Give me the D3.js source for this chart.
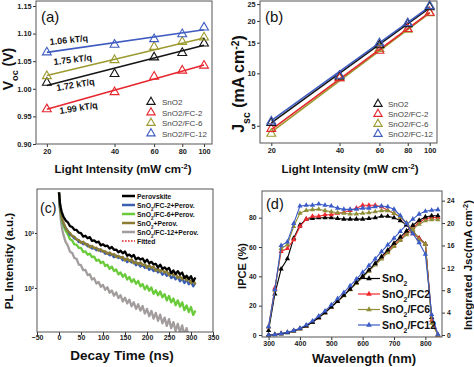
<!DOCTYPE html>
<html lang="en">
<head>
<meta charset="utf-8">
<title>SnO2 / FC devices</title>
<script src="https://cdn.jsdelivr.net/npm/d3@7/dist/d3.min.js"></script>
<style>
  body { margin: 0; background: #ffffff; }
  svg text { font-family: "Liberation Sans", Arial, sans-serif; }
</style>
</head>
<body>
<script>
// ---- (a) / (b) : Voc and Jsc vs light intensity ----
var lightIntensity = [20, 40, 60, 80, 100]
var fitEnds = [20, 100]
var seriesAB = ["SnO2", "SnO2/FC-2", "SnO2/FC-6", "SnO2/FC-12"]
var colorsAB = ["#151515", "#e6262e", "#9c9a2e", "#3f5cc0"]

var vocSnO2 = [1.011, 1.027, 1.057, 1.065, 1.082]
var vocFC2 = [0.963, 0.994, 1.022, 1.033, 1.042]
var vocFC6 = [1.023, 1.052, 1.076, 1.085, 1.093]
var vocFC12 = [1.066, 1.080, 1.090, 1.099, 1.111]
var vocFitSnO2 = [1.006, 1.079]
var vocFitFC2 = [0.963, 1.043]
var vocFitFC6 = [1.024, 1.092]
var vocFitFC12 = [1.066, 1.107]
var slopeLabels = ["1.06 kT/q", "1.75 kT/q", "1.72 kT/q", "1.99 kT/q"]
var vocTicks = [0.90, 0.95, 1.00, 1.05, 1.10, 1.15]

var jscSnO2 = [5.2, 9.6, 14.5, 19.2, 24.0]
var jscFC2 = [4.8, 9.4, 13.5, 18.0, 22.3]
var jscFC6 = [4.5, 9.4, 13.8, 17.8, 22.2]
var jscFC12 = [5.3, 9.7, 14.9, 19.4, 24.4]
var jscFitSnO2 = [5.2, 23.8]
var jscFitFC2 = [4.75, 22.4]
var jscFitFC6 = [4.6, 22.2]
var jscFitFC12 = [5.35, 24.2]
var jscTicks = [5, 10, 15, 20, 25]

// ---- (c) : PL decay ----
var decayTime = [0, 2, 4, 6, 8, 10, 15, 20, 25, 30, 35, 40, 45, 50, 55, 60, 65, 70, 75, 80, 85, 90, 95, 100,
  105, 110, 115, 120, 125, 130, 135, 140, 145, 150, 155, 160, 165, 170, 175, 180, 185, 190, 195, 200,
  205, 210, 215, 220, 225, 230, 235, 240, 245, 250, 255, 260, 265, 270, 275, 280, 285, 290, 295, 300, 305, 310]
var plPerovskite = [5500, 3630, 2880, 2450, 2190, 2000, 1700, 1567, 1334, 1282, 1143, 1135, 1012, 993, 861, 891, 804, 841, 721, 733, 673, 695, 596, 624,
  575, 589, 521, 556, 495, 499, 447, 476, 427, 462, 385, 405, 369, 398, 331, 355, 330, 345, 295, 327,
  282, 299, 268, 274, 236, 266, 224, 237, 216, 232, 186, 208, 180, 202, 176, 191, 151, 167, 146, 164, 132, 155]
var plFC2 = [5500, 3100, 2350, 1960, 1700, 1510, 1230, 1102, 923, 891, 794, 785, 684, 695, 624, 646, 573, 586, 519, 537, 484, 507, 462, 473,
  420, 439, 392, 406, 363, 392, 351, 366, 319, 341, 295, 321, 290, 304, 259, 282, 246, 264, 233, 252,
  214, 230, 203, 223, 192, 207, 174, 191, 167, 186, 151, 166, 144, 161, 133, 148, 123, 142, 117, 132, 107, 125]
var plFC6 = [5500, 3020, 2240, 1820, 1550, 1380, 1100, 944, 767, 728, 619, 617, 535, 537, 452, 462, 403, 422, 363, 372, 313, 327, 285, 302,
  252, 264, 223, 245, 204, 217, 177, 192, 160, 178, 143, 158, 128, 145, 119, 135, 107, 118, 94.6, 110,
  89.3, 102, 78.2, 91, 73.3, 86.3, 67.9, 77.3, 59.4, 71.6, 54.8, 64.3, 48.6, 59.7, 45.7, 54.8, 39.6, 48.1, 36.4, 45.2, 32.4, 38.9]
var plSnO2 = [5500, 3160, 2400, 2000, 1740, 1550, 1260, 1072, 1005, 875, 861, 755, 750, 661, 692, 619, 624, 547, 582, 531, 541, 479, 509, 457,
  466, 417, 445, 404, 415, 365, 386, 353, 368, 316, 348, 310, 332, 281, 299, 270, 294, 259, 271, 233,
  260, 231, 246, 206, 222, 198, 221, 191, 203, 170, 195, 169, 185, 151, 163, 143, 163, 137, 151, 122, 140, 116]
var plFC12 = [5500, 2630, 1780, 1350, 1100, 933, 692, 589, 457, 432, 351, 339, 266, 260, 211, 214, 172, 178, 143, 150, 120, 129, 105, 114,
  92.5, 103, 81.8, 89.9, 72.4, 83.4, 65.6, 73.8, 56.8, 66.8, 52.4, 61.4, 46.5, 55.1, 41.7, 50.6, 38.7, 47, 34.4, 41.7,
  30.8, 38.3, 27.7, 35.2, 25.4, 32.7, 22.8, 29, 20.5, 27.2, 18.6, 24, 16.6, 22.4, 15.5, 20.9, 13.8, 18.6, 12.6]
var plNames = ["Perovskite", "SnO2/FC-2+Perov.", "SnO2/FC-6+Perov.", "SnO2+Perov.", "SnO2/FC-12+Perov.", "Fitted"]
var plColors = ["#000000", "#3b5fb0", "#6acb3a", "#8c7d32", "#a39c9c", "#e02424"]
var timeTicks = [-50, 0, 50, 100, 150, 200, 250, 300, 350]

// ---- (d) : IPCE and integrated Jsc ----
var wavelength = [300, 320, 340, 360, 380, 400, 420, 440, 460, 480, 500, 520, 540, 560, 580, 600, 620, 640, 660, 680, 700, 720, 740, 760, 780, 800, 820, 840]
var ipceSnO2 = [3, 28, 45, 52, 66, 75, 79, 79.5, 80, 80, 80, 79.5, 79, 79, 79, 79, 79.5, 80, 81, 81, 80, 78, 75, 70.5, 66, 62, 12, 0]
var ipceFC2 = [5.7, 32, 57, 59, 65, 74, 79, 81, 81, 82, 82, 83, 83.5, 85, 86.5, 88.5, 88.5, 88.5, 87.5, 85, 83, 80.5, 76, 69, 66, 62, 10, 0]
var ipceFC6 = [5.7, 30.5, 59, 61.5, 74, 83, 85, 85.5, 85.7, 84.8, 84, 83.4, 83, 82.5, 82.5, 83, 83.4, 84, 84.8, 84.8, 83, 80.5, 76.5, 71.5, 65, 62, 8, 0]
var ipceFC12 = [5.7, 31, 61, 63.5, 76, 88, 88.5, 88.5, 89.3, 88.5, 88, 86.5, 85.7, 85.7, 85.7, 86.5, 86.5, 87.5, 88, 87.5, 85.7, 81.5, 76, 69, 63, 55, 14, 0.5]
var intJscSnO2 = [0, 0.05, 0.2, 0.4, 0.7, 1.1, 1.6, 2.3, 3.1, 4.0, 5.0, 6.0, 7.1, 8.2, 9.4, 10.5, 11.6, 12.8, 14.0, 15.2, 16.4, 17.5, 18.6, 19.6, 20.5, 21.1, 21.3, 21.3]
var intJscFC2 = [0, 0.1, 0.25, 0.45, 0.75, 1.1, 1.6, 2.3, 3.1, 4.0, 5.0, 6.0, 7.1, 8.2, 9.3, 10.4, 11.5, 12.6, 13.8, 14.9, 16.0, 17.1, 18.2, 19.2, 20.1, 20.8, 21.0, 21.0]
var intJscFC6 = [0, 0.1, 0.25, 0.45, 0.75, 1.1, 1.6, 2.3, 3.1, 4.0, 5.0, 6.0, 7.0, 8.1, 9.2, 10.3, 11.4, 12.5, 13.6, 14.7, 15.8, 16.9, 17.9, 18.9, 19.8, 20.4, 20.6, 20.6]
var intJscFC12 = [0, 0.1, 0.25, 0.5, 0.8, 1.2, 1.8, 2.5, 3.4, 4.3, 5.4, 6.5, 7.6, 8.8, 10.0, 11.2, 12.4, 13.6, 14.9, 16.1, 17.3, 18.5, 19.7, 20.7, 21.6, 22.1, 22.3, 22.4]
var seriesD = ["SnO2", "SnO2/FC2", "SnO2/FC6", "SnO2/FC12"]
var colorsD = ["#000000", "#f0282d", "#8f8f3a", "#3a5bc8"]
var wlTicks = [300, 400, 500, 600, 700, 800]
var ipceTicks = [0, 20, 40, 60, 80]
var intJscTicks = [0, 4, 8, 12, 16, 20, 24]


var svg = d3.select("body").append("svg")
  .attr("width", 474)
  .attr("height", 367)

// text with optional sub / superscript pieces, e.g. [["V"],["oc","sub"]]
function label(parent, x, y, parts, size, weight, anchor, angle) {
  var t = parent.append("text")
    .attr("font-size", size)
    .attr("font-weight", weight)
    .attr("text-anchor", anchor)
    .attr("fill", "#111")
  if (angle == -90) {
    t.attr("transform", "translate(" + (x + size * 0.35) + "," + y + ") rotate(-90)")
  } else if (angle) {
    t.attr("transform", "translate(" + x + "," + y + ") rotate(" + angle + ")")
  } else {
    t.attr("x", x).attr("y", y)
  }
  parts.forEach(function(p) {
    var s = t.append("tspan").text(p[0])
    if (p[1] == "sub") s.attr("font-size", size * 0.65).attr("baseline-shift", "sub")
    if (p[1] == "sup") s.attr("font-size", size * 0.65).attr("baseline-shift", "super")
  })
  return t
}

// "SnO2" style names -> parts with subscript 2 after SnO
function chem(name) {
  var k = name.indexOf("SnO2")
  if (k < 0) return [[name]]
  return [["SnO"], ["2", "sub"], [name.slice(k + 4)]]
}

function styleAxis(g, size) {
  g.select(".domain").remove()
  g.selectAll(".tick line").attr("stroke", "#333")
  g.selectAll(".tick text")
    .attr("font-size", size)
    .attr("font-weight", "bold")
    .attr("fill", "#222")
    .attr("font-family", "'Liberation Sans', Arial, sans-serif")
}

function frame(x0, y0, x1, y1) {
  svg.append("rect")
    .attr("x", x0).attr("y", y0)
    .attr("width", x1 - x0).attr("height", y1 - y0)
    .attr("fill", "none")
    .attr("stroke", "#555")
    .attr("stroke-width", 1)
}

var triangle = d3.symbol().type(d3.symbolTriangle)


// ================= (a) =================
var ax = d3.scaleLog().domain([17.9, 108.5]).range([36, 212])
var ay = d3.scaleLinear().domain([0.90, 1.159]).range([144, 1])

var vocData = [vocSnO2, vocFC2, vocFC6, vocFC12]
var vocFits = [vocFitSnO2, vocFitFC2, vocFitFC6, vocFitFC12]

var lineA = d3.line()
  .x(function(d) { return ax(d[0]) })
  .y(function(d) { return ay(d[1]) })

vocFits.forEach(function(f, s) {
  svg.append("path")
    .attr("d", lineA(fitEnds.map(function(x, i) { return [x, f[i]] })))
    .attr("fill", "none")
    .attr("stroke", colorsAB[s])
    .attr("stroke-width", 1.6)
})
vocData.forEach(function(vals, s) {
  svg.selectAll(".va" + s)
    .data(vals)
    .enter()
    .append("path")
    .attr("d", triangle.size(34)())
    .attr("transform", function(d, i) { return "translate(" + ax(lightIntensity[i]) + "," + ay(d) + ")" })
    .attr("fill", "none")
    .attr("stroke", colorsAB[s])
    .attr("stroke-width", 1.1)
})

// slope annotations, in the order of the curves from top to bottom
var slopePos = [[50, 45, -6], [54, 65, -7], [57, 91, -10], [60, 114, -9]]
slopeLabels.forEach(function(t, i) {
  label(svg, slopePos[i][0], slopePos[i][1], [[t]], 9, "bold", "start", slopePos[i][2])
})

var gax = svg.append("g").attr("transform", "translate(0,144)")
  .call(d3.axisBottom(ax).tickValues(lightIntensity).tickFormat(d3.format("d")).tickSize(3).tickPadding(2))
styleAxis(gax, 7.3)
var gay = svg.append("g").attr("transform", "translate(36,0)")
  .call(d3.axisLeft(ay).tickValues(vocTicks).tickFormat(d3.format(".2f")).tickSize(3).tickPadding(1.5))
styleAxis(gay, 7.3)
frame(36, 1, 212, 144)

seriesAB.forEach(function(n, i) {
  var yy = 102 + i * 10.5
  svg.append("path").attr("d", triangle.size(30)())
    .attr("transform", "translate(151," + yy + ")")
    .attr("fill", "none").attr("stroke", colorsAB[i]).attr("stroke-width", 1.1)
  label(svg, 162, yy + 3, [[n]], 8, "normal", "start").attr("fill", "#444")
})

label(svg, 41, 22, [["(a)"]], 15, "normal", "start")
label(svg, 8, 69, [["V"], ["oc", "sub"], [" (V)"]], 14, "bold", "middle", -90)
label(svg, 123, 172.5, [["Light Intensity (mW cm"], ["-2", "sup"], [")"]], 11.5, "bold", "middle")


// ================= (b) =================
var bx = d3.scaleLog().domain([17.83, 107.7]).range([260, 437])
var by = d3.scaleLog().domain([3.98, 26.04]).range([143, 1])

var jscData = [jscSnO2, jscFC2, jscFC6, jscFC12]
var jscFits = [jscFitSnO2, jscFitFC2, jscFitFC6, jscFitFC12]
var orderB = [2, 1, 0, 3]

var lineB = d3.line()
  .x(function(d) { return bx(d[0]) })
  .y(function(d) { return by(d[1]) })

orderB.forEach(function(s) {
  svg.append("path")
    .attr("d", lineB(fitEnds.map(function(x, i) { return [x, jscFits[s][i]] })))
    .attr("fill", "none")
    .attr("stroke", colorsAB[s])
    .attr("stroke-width", 1.6)
})
orderB.forEach(function(s) {
  svg.selectAll(".jb" + s)
    .data(jscData[s])
    .enter()
    .append("path")
    .attr("d", triangle.size(34)())
    .attr("transform", function(d, i) { return "translate(" + bx(lightIntensity[i]) + "," + by(d) + ")" })
    .attr("fill", "none")
    .attr("stroke", colorsAB[s])
    .attr("stroke-width", 1.1)
})

var gbx = svg.append("g").attr("transform", "translate(0,143)")
  .call(d3.axisBottom(bx).tickValues(lightIntensity).tickFormat(d3.format("d")).tickSize(3).tickPadding(2))
styleAxis(gbx, 7.3)
var gby = svg.append("g").attr("transform", "translate(260,0)")
  .call(d3.axisLeft(by).tickValues(jscTicks).tickFormat(d3.format("d")).tickSize(3).tickPadding(1.5))
styleAxis(gby, 7.3)
frame(260, 1, 437, 143)

seriesAB.forEach(function(n, i) {
  var yy = 104 + i * 10
  svg.append("path").attr("d", triangle.size(30)())
    .attr("transform", "translate(378," + yy + ")")
    .attr("fill", "none").attr("stroke", colorsAB[i]).attr("stroke-width", 1.1)
  label(svg, 388, yy + 3, [[n]], 8, "normal", "start").attr("fill", "#444")
})

label(svg, 265, 22, [["(b)"]], 15, "normal", "start")
label(svg, 238, 84, [["J"], ["sc", "sub"], [" (mA cm"], ["-2", "sup"], [")"]], 16, "bold", "middle", -90)
label(svg, 350, 172.5, [["Light Intensity (mW cm"], ["-2", "sup"], [")"]], 11.5, "bold", "middle")


// ================= (c) =================
var cx = d3.scaleLinear().domain([-50, 350]).range([37, 213])
var cy = d3.scaleLog().domain([15.85, 6310]).range([332, 189])

svg.append("clipPath").attr("id", "clipC")
  .append("rect").attr("x", 37).attr("y", 189).attr("width", 176).attr("height", 143)

var lineC = d3.line()
  .x(function(d, i) { return cx(decayTime[i]) })
  .y(function(d) { return cy(d) })

var plData = [plPerovskite, plFC2, plFC6, plSnO2, plFC12]
var orderC = [4, 2, 1, 3, 0]
orderC.forEach(function(s) {
  svg.append("path")
    .attr("clip-path", "url(#clipC)")
    .attr("d", lineC(plData[s]))
    .attr("fill", "none")
    .attr("stroke", plColors[s])
    .attr("stroke-width", 2.3)
    .attr("stroke-linejoin", "round")
})

var gcx = svg.append("g").attr("transform", "translate(0,332)")
  .call(d3.axisBottom(cx).tickValues(timeTicks).tickSize(3).tickPadding(0.5))
styleAxis(gcx, 7)
var gcy = svg.append("g").attr("transform", "translate(37,0)")
  .call(d3.axisLeft(cy).tickValues([100, 1000]).tickFormat(function(d) { return d == 1000 ? "10\u00b3" : "10\u00b2" }).tickSize(2).tickPadding(1))
styleAxis(gcy, 6.5)
frame(37, 189, 213, 332)

plNames.forEach(function(n, i) {
  var yy = 196 + i * 9
  var seg = svg.append("line")
    .attr("x1", 122).attr("x2", 135).attr("y1", yy).attr("y2", yy)
    .attr("stroke", plColors[i])
    .attr("stroke-width", i == 5 ? 1.6 : 2.5)
  if (i == 5) seg.attr("stroke-dasharray", "1.6,1.4")
  label(svg, 137, yy + 2.5, chem(n), 6.8, "bold", "start")
})

label(svg, 40, 213, [["(c)"]], 14, "normal", "start")
label(svg, 9, 261, [["PL Intensity (a.u.)"]], 11.6, "bold", "middle", -90)
label(svg, 122, 360, [["Decay Time (ns)"]], 13.5, "bold", "middle")


// ================= (d) =================
var dx = d3.scaleLinear().domain([279, 853]).range([262, 442])
var dyL = d3.scaleLinear().domain([-1.364, 98.2]).range([337, 191])
var dyR = d3.scaleLinear().domain([-0.357, 25.73]).range([337, 191])

svg.append("clipPath").attr("id", "clipD")
  .append("rect").attr("x", 262).attr("y", 191).attr("width", 180).attr("height", 146)

var ipceData = [ipceSnO2, ipceFC2, ipceFC6, ipceFC12]
var intData = [intJscSnO2, intJscFC2, intJscFC6, intJscFC12]

function drawD(vals, yScale, s, cls) {
  var ln = d3.line()
    .x(function(d, i) { return dx(wavelength[i]) })
    .y(function(d) { return yScale(d) })
  var g = svg.append("g").attr("clip-path", "url(#clipD)")
  g.append("path")
    .attr("d", ln(vals))
    .attr("fill", "none")
    .attr("stroke", colorsD[s])
    .attr("stroke-width", 1.1)
  g.selectAll("." + cls)
    .data(vals)
    .enter()
    .append("path")
    .attr("d", triangle.size(12)())
    .attr("transform", function(d, i) { return "translate(" + dx(wavelength[i]) + "," + yScale(d) + ")" })
    .attr("fill", colorsD[s])
}

;[1, 2, 0, 3].forEach(function(s) { drawD(intData[s], dyR, s, "jd" + s) })
;[0, 1, 2, 3].forEach(function(s) { drawD(ipceData[s], dyL, s, "id" + s) })

var gdx = svg.append("g").attr("transform", "translate(0,337)")
  .call(d3.axisBottom(dx).tickValues(wlTicks).tickSize(3).tickPadding(1))
styleAxis(gdx, 7)
var gdl = svg.append("g").attr("transform", "translate(262,0)")
  .call(d3.axisLeft(dyL).tickValues(ipceTicks).tickSize(3).tickPadding(2.5))
styleAxis(gdl, 6.8)
var gdr = svg.append("g").attr("transform", "translate(442,0)")
  .call(d3.axisRight(dyR).tickValues(intJscTicks).tickSize(3).tickPadding(2))
styleAxis(gdr, 6.8)
frame(262, 191, 442, 337)

seriesD.forEach(function(n, i) {
  var yy = 278.5 + i * 15.5
  svg.append("line")
    .attr("x1", 358).attr("x2", 380).attr("y1", yy).attr("y2", yy)
    .attr("stroke", colorsD[i]).attr("stroke-width", 1.2)
  svg.append("path").attr("d", triangle.size(14)())
    .attr("transform", "translate(369," + yy + ")")
    .attr("fill", colorsD[i])
  label(svg, 382, yy + 3.8, chem(n), 10.5, "bold", "start")
})

label(svg, 266, 209, [["(d)"]], 14.5, "normal", "start")
label(svg, 242, 266, [["IPCE (%)"]], 11, "bold", "middle", -90)
label(svg, 468, 265, [["Integrated Jsc(mA cm"], ["-2", "sup"], [")"]], 11.5, "bold", "middle", -90)
label(svg, 364, 363, [["Wavelength (nm)"]], 13, "bold", "middle")
</script>
</body>
</html>
